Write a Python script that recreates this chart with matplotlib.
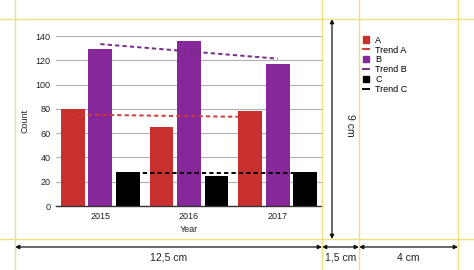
import matplotlib
matplotlib.use("Agg")
import matplotlib.pyplot as plt
import numpy as np
from matplotlib.lines import Line2D
from matplotlib.patches import Patch, FancyArrowPatch

plt.rcParams["font.family"] = ["Liberation Sans", "DejaVu Sans"]

years = ["2015", "2016", "2017"]
series_names = ["A", "B", "C"]
values_a = [80, 65, 78]
values_b = [129, 136, 117]
values_c = [28, 25, 28]
colors = ["#c8302f", "#86279a", "#000000"]
trend_colors = ["#d23a3a", "#7a2a8c", "#000000"]
y_ticks = [0, 20, 40, 60, 80, 100, 120, 140]
dim_labels = ["12,5 cm", "1,5 cm", "4 cm", "9 cm"]

W, H = 474, 270
fig = plt.figure(figsize=(W / 100, H / 100), dpi=100)
fig.patch.set_facecolor("white")

def fx(px):
    return px / W

def fy(py):
    return 1 - py / H

ax = fig.add_axes([fx(56), fy(206), fx(322) - fx(56), fy(36) - fy(206)])
x = np.arange(len(years))
width = 0.27
offset = 0.31
all_vals = [values_a, values_b, values_c]
for i, (vals, c) in enumerate(zip(all_vals, colors)):
    ax.bar(x + (i - 1) * offset, vals, width, color=c, zorder=2)
for i, (vals, c) in enumerate(zip(all_vals, trend_colors)):
    k, b = np.polyfit(x, vals, 1)
    xs = np.array([x[0], x[-1]]) + (i - 1) * offset
    ax.plot(xs, k * x[[0, -1]] + b, color=c, lw=1.4, ls=(0, (2.2, 1.6)), zorder=3)

ax.set_xlim(-0.5, 2.5)
ax.set_ylim(0, 140)
ax.set_yticks(y_ticks)
ax.set_xticks(x)
ax.set_xticklabels(years)
ax.yaxis.grid(True, color="#b0b0b0", lw=0.8, zorder=0)
ax.set_axisbelow(True)
for s in ["left", "right", "top"]:
    ax.spines[s].set_visible(False)
ax.spines["bottom"].set_color("#333333")
ax.spines["bottom"].set_linewidth(1.0)
ax.tick_params(length=0, labelsize=6.5, pad=4, colors="#222222")
ax.set_ylabel("Count", fontsize=6.5, labelpad=4, color="#222222")
ax.set_xlabel("Year", fontsize=6.5, labelpad=3, color="#222222")

handles = []
labels = []
for n, c, tc in zip(series_names, colors, trend_colors):
    handles.append(Patch(facecolor=c, edgecolor=c))
    labels.append(n)
    handles.append(Line2D([0], [0], color=tc, lw=1.4))
    labels.append("Trend " + n)
fig.legend(handles, labels, loc="upper left", bbox_to_anchor=(fx(359), fy(32)),
           frameon=False, fontsize=6.5, handlelength=0.7, handleheight=0.7,
           handletextpad=0.7, labelspacing=0.1, borderaxespad=0)

# guide lines
yellow = "#efe07f"
for px in [15, 322, 359, 458]:
    fig.add_artist(Line2D([fx(px), fx(px)], [0, 1], color=yellow, lw=1.0))
for py in [19, 239]:
    fig.add_artist(Line2D([0, 1], [fy(py), fy(py)], color=yellow, lw=1.0))

arrow_kw = dict(arrowstyle="<|-|>", color="#111111", lw=0.9, mutation_scale=6,
                shrinkA=0, shrinkB=0)
fig.add_artist(FancyArrowPatch((fx(332), fy(19)), (fx(332), fy(239)),
                               transform=fig.transFigure, **arrow_kw))
segs = [(15, 322), (322, 359), (359, 458)]
for (a, b), lab in zip(segs, dim_labels[:3]):
    fig.add_artist(FancyArrowPatch((fx(a), fy(247)), (fx(b), fy(247)),
                                   transform=fig.transFigure, **arrow_kw))
    fig.text(fx((a + b) / 2), fy(258), lab, ha="center", va="center", fontsize=7.5, color="#222222")
fig.text(fx(350), fy(125), dim_labels[3], ha="center", va="center", rotation=-90,
         fontsize=7.5, color="#222222")

fig.savefig("out.png", dpi=100)
